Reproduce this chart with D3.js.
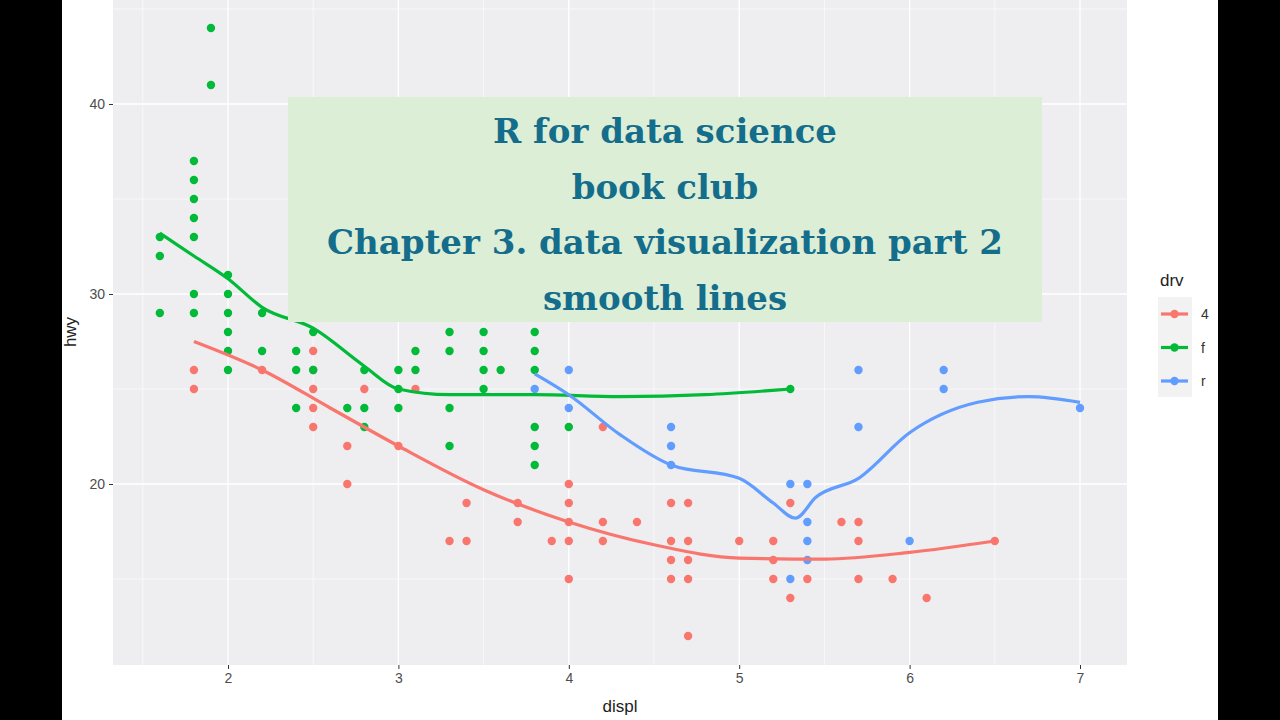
<!DOCTYPE html>
<html><head><meta charset="utf-8">
<script src="https://cdn.jsdelivr.net/npm/d3@7"></script>
<style>body{margin:0;background:#000}svg{display:block}</style>
</head><body><svg id="c" width="1280" height="720"></svg>
<script>
const xTicks=[2,3,4,5,6,7];
const yTicks=[20,30,40];
const drvLevels=["4","f","r"];
const colors=["#F8766D","#00BA38","#619CFF"];
// points: [displ, hwy]
const pts4=[[1.8,26],[1.8,25],[2.2,26],[2.5,27],[2.5,26],[2.5,25],[2.5,24],[2.5,23],[2.7,22],[2.7,20],[2.8,25],[3.0,22],[3.1,25],[3.4,19],[3.4,17],[3.3,17],[3.7,19],[3.7,18],[3.9,17],[4.0,20],[4.0,19],[4.0,18],[4.0,17],[4.0,15],[4.2,23],[4.2,18],[4.2,17],[4.4,18],[4.6,19],[4.6,17],[4.6,16],[4.6,15],[4.7,19],[4.7,17],[4.7,16],[4.7,15],[4.7,12],[5.0,17],[5.2,17],[5.2,16],[5.2,15],[5.3,19],[5.3,14],[5.4,15],[5.6,18],[5.7,18],[5.7,17],[5.7,15],[5.9,15],[6.1,14],[6.5,17]];
const ptsF=[[1.6,33],[1.6,32],[1.6,29],[1.8,37],[1.8,36],[1.8,35],[1.8,34],[1.8,33],[1.8,30],[1.8,29],[1.9,44],[1.9,41],[2.0,31],[2.0,30],[2.0,29],[2.0,28],[2.0,27],[2.0,26],[2.2,29],[2.2,27],[2.4,27],[2.4,26],[2.4,24],[2.5,28],[2.5,26],[2.7,24],[2.8,26],[2.8,24],[2.8,23],[3.0,26],[3.0,25],[3.0,24],[3.1,27],[3.1,26],[3.3,28],[3.3,27],[3.3,24],[3.3,22],[3.5,28],[3.5,27],[3.5,26],[3.5,25],[3.6,26],[3.8,28],[3.8,27],[3.8,26],[3.8,23],[3.8,22],[3.8,21],[4.0,23],[5.3,25]];
const ptsR=[[3.8,25],[4.0,26],[4.0,24],[4.6,23],[4.6,22],[4.6,21],[5.3,20],[5.3,15],[5.4,20],[5.4,18],[5.4,17],[5.4,16],[5.7,26],[5.7,23],[6.0,17],[6.2,26],[6.2,25],[7.0,24]];
// smooth (loess) curves
const sm4=[[1.8,27.5],[2.2,26],[2.6,24],[3.0,22],[3.5,19.7],[4.0,18],[4.5,16.8],[5.0,16.1],[5.5,16.05],[6.0,16.4],[6.5,17]];
const smF=[[1.6,33.2],[1.8,32],[2.0,30.8],[2.2,29.3],[2.5,28.2],[2.8,26.2],[3.0,25],[3.3,24.7],[3.8,24.7],[4.3,24.6],[4.8,24.7],[5.3,25]];
const smR=[[3.8,25.8],[4.0,24.7],[4.3,22.6],[4.6,21],[5.0,20.3],[5.2,19],[5.33,18.2],[5.45,19.3],[5.7,20.3],[6.0,22.7],[6.4,24.3],[6.7,24.6],[7.0,24.3]];
const titleLines=["R for data science","book club","Chapter 3. data visualization part 2","smooth lines"];

const svg=d3.select("#c");
svg.append("rect").attr("x",62).attr("y",0).attr("width",1156).attr("height",720).attr("fill","#fff");
const L=113,R=1127,T=0,B=665;
const x=d3.scaleLinear().domain([2,7]).range([228,1080]);
const y=d3.scaleLinear().domain([20,40]).range([484,104]);
svg.append("rect").attr("x",L).attr("y",T).attr("width",R-L).attr("height",B-T).attr("fill","#EEEDF0");
const g=svg.append("g");
const minorX=d3.range(1.5,7.6,1), minorY=[15,25,35,45];
g.selectAll(".mx").data(minorX).join("line").attr("x1",d=>x(d)).attr("x2",d=>x(d)).attr("y1",T).attr("y2",B).attr("stroke","#fff").attr("stroke-width",0.6);
g.selectAll(".my").data(minorY).join("line").attr("x1",L).attr("x2",R).attr("y1",d=>y(d)).attr("y2",d=>y(d)).attr("stroke","#fff").attr("stroke-width",0.6);
g.selectAll(".Mx").data(xTicks).join("line").attr("x1",d=>x(d)).attr("x2",d=>x(d)).attr("y1",T).attr("y2",B).attr("stroke","#fff").attr("stroke-width",1.3);
g.selectAll(".My").data(yTicks).join("line").attr("x1",L).attr("x2",R).attr("y1",d=>y(d)).attr("y2",d=>y(d)).attr("stroke","#fff").attr("stroke-width",1.3);
// axes
const xa=svg.append("g").attr("transform",`translate(0,${B})`).call(d3.axisBottom(x).tickValues(xTicks).tickFormat(d3.format("d")).tickSize(4).tickPadding(4));
const ya=svg.append("g").attr("transform",`translate(${L},0)`).call(d3.axisLeft(y).tickValues(yTicks).tickFormat(d3.format("d")).tickSize(4).tickPadding(4));
[xa,ya].forEach(a=>{a.select(".domain").remove();a.selectAll("line").attr("stroke","#333");a.selectAll("text").attr("fill","#4D4D4D").style("font-family","Liberation Sans, Arial").style("font-size","14px");});
svg.append("text").attr("x",620).attr("y",712).attr("text-anchor","middle").style("font-family","Liberation Sans").style("font-size","17px").attr("fill","#222").text("displ");
svg.append("text").attr("transform","translate(76,332) rotate(-90)").attr("text-anchor","middle").style("font-family","Liberation Sans").style("font-size","17px").attr("fill","#222").text("hwy");
// points
const sets=[pts4,ptsF,ptsR], smooths=[sm4,smF,smR];
sets.forEach((s,i)=>g.selectAll(null).data(s).join("circle").attr("cx",d=>x(d[0])).attr("cy",d=>y(d[1])).attr("r",4.2).attr("fill",colors[i]));
const line=d3.line().x(d=>x(d[0])).y(d=>y(d[1])).curve(d3.curveMonotoneX);
smooths.forEach((s,i)=>g.append("path").attr("d",line(s)).attr("fill","none").attr("stroke",colors[i]).attr("stroke-width",3.2));
// legend
svg.append("rect").attr("x",1158).attr("y",297).attr("width",34).attr("height",100).attr("fill","#F2F2F2");
svg.append("text").attr("x",1160).attr("y",286).style("font-family","Liberation Sans").style("font-size","17px").attr("fill","#222").text("drv");
drvLevels.forEach((lv,i)=>{const yy=314+i*33.5;
 svg.append("line").attr("x1",1161).attr("x2",1188).attr("y1",yy).attr("y2",yy).attr("stroke",colors[i]).attr("stroke-width",3.2);
 svg.append("circle").attr("cx",1174.5).attr("cy",yy).attr("r",4.2).attr("fill",colors[i]);
 svg.append("text").attr("x",1201).attr("y",yy+5).style("font-family","Liberation Sans").style("font-size","14px").attr("fill","#333").text(lv);});
// overlay
svg.append("rect").attr("x",288).attr("y",97).attr("width",754).attr("height",225).attr("fill","#DCEFD6");
titleLines.forEach((t,i)=>svg.append("text").attr("x",665).attr("y",143+i*55.5).attr("text-anchor","middle").style("font-family","DejaVu Serif").style("font-weight","bold").style("font-size","34px").attr("fill","#156D8C").text(t));
</script></body></html>
